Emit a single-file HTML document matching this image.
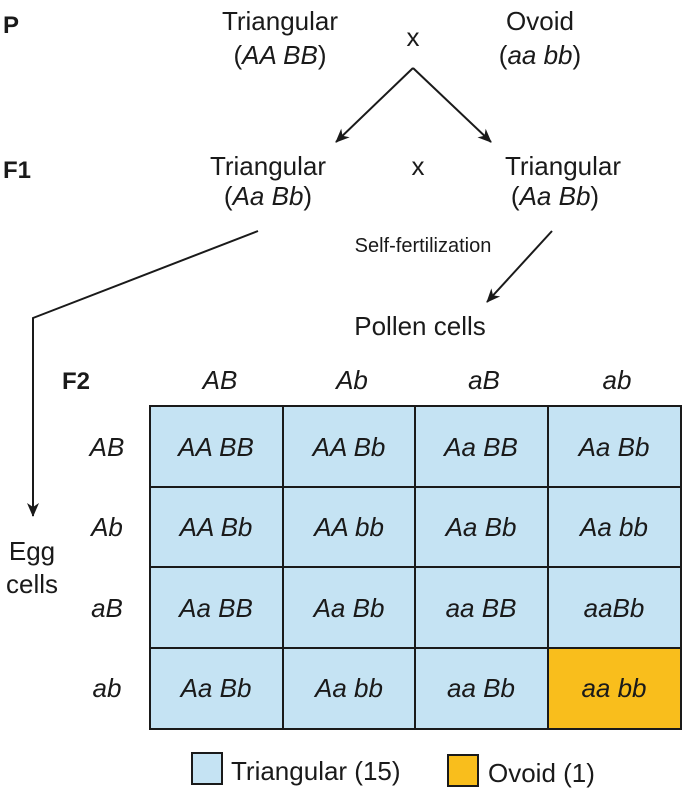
<!DOCTYPE html>
<html><head><style>
body{margin:0;background:#fff}
svg text{font-family:"Liberation Sans",Arial,sans-serif;fill:#1a1a1a}
.i{font-style:italic}
</style></head><body>
<svg width="685" height="793" viewBox="0 0 685 793" xmlns="http://www.w3.org/2000/svg">
<defs><marker id="a" markerWidth="14" markerHeight="12" refX="13" refY="6" orient="auto" markerUnits="userSpaceOnUse"><path d="M0,0 L14,6 L0,12 L4,6 z" fill="#1a1a1a"/></marker></defs>
<g font-size="26">
<text x="3" y="33" font-weight="bold" font-size="24">P</text>
<text x="280" y="30" text-anchor="middle">Triangular</text>
<text x="280" y="64" text-anchor="middle">(<tspan class="i">AA BB</tspan>)</text>
<text x="413" y="46" text-anchor="middle">x</text>
<text x="540" y="30" text-anchor="middle">Ovoid</text>
<text x="540" y="64" text-anchor="middle">(<tspan class="i">aa bb</tspan>)</text>
<text x="3" y="178" font-weight="bold" font-size="24">F1</text>
<text x="268" y="175" text-anchor="middle">Triangular</text>
<text x="268" y="205" text-anchor="middle">(<tspan class="i">Aa Bb</tspan>)</text>
<text x="418" y="175" text-anchor="middle">x</text>
<text x="563" y="175" text-anchor="middle">Triangular</text>
<text x="555" y="205" text-anchor="middle">(<tspan class="i">Aa Bb</tspan>)</text>
<text x="423" y="252" text-anchor="middle" font-size="20">Self-fertilization</text>
<text x="420" y="335" text-anchor="middle">Pollen cells</text>
<text x="62" y="389" font-weight="bold" font-size="24">F2</text>
<g class="i" text-anchor="middle">
<text x="220" y="389" class="i">AB</text><text x="352" y="389" class="i">Ab</text><text x="484" y="389" class="i">aB</text><text x="617" y="389" class="i">ab</text>
<text x="107" y="456" class="i">AB</text><text x="107" y="536" class="i">Ab</text><text x="107" y="617" class="i">aB</text><text x="107" y="697" class="i">ab</text>
</g>
<text x="32" y="560" text-anchor="middle">Egg</text>
<text x="32" y="593" text-anchor="middle">cells</text>
</g>
<g stroke="#1a1a1a" stroke-width="2" fill="none">
<line x1="413" y1="68" x2="336" y2="142" marker-end="url(#a)"/>
<line x1="413" y1="68" x2="491" y2="142" marker-end="url(#a)"/>
<polyline points="258,231 33,318 33,516" marker-end="url(#a)"/>
<line x1="552" y1="231" x2="487" y2="302" marker-end="url(#a)"/>
</g>
<g stroke="#1a1a1a" stroke-width="2">
<rect x="150" y="406" width="531" height="323" fill="#c5e3f3"/>
<rect x="548" y="648" width="133" height="81" fill="#f9be1c"/>
<line x1="283" y1="406" x2="283" y2="729"/><line x1="415" y1="406" x2="415" y2="729"/><line x1="548" y1="406" x2="548" y2="729"/>
<line x1="150" y1="487" x2="681" y2="487"/><line x1="150" y1="567" x2="681" y2="567"/><line x1="150" y1="648" x2="681" y2="648"/>
<rect x="192" y="753" width="30" height="31" fill="#c5e3f3"/>
<rect x="448" y="755" width="30" height="31" fill="#f9be1c"/>
</g>
<g font-size="26" font-style="italic" text-anchor="middle">
<text x="216" y="456">AA BB</text><text x="349" y="456">AA Bb</text><text x="481" y="456">Aa BB</text><text x="614" y="456">Aa Bb</text>
<text x="216" y="536">AA Bb</text><text x="349" y="536">AA bb</text><text x="481" y="536">Aa Bb</text><text x="614" y="536">Aa bb</text>
<text x="216" y="617">Aa BB</text><text x="349" y="617">Aa Bb</text><text x="481" y="617">aa BB</text><text x="614" y="617">aaBb</text>
<text x="216" y="697">Aa Bb</text><text x="349" y="697">Aa bb</text><text x="481" y="697">aa Bb</text><text x="614" y="697">aa bb</text>
</g>
<text x="231" y="780" font-size="26">Triangular (15)</text>
<text x="488" y="782" font-size="26">Ovoid (1)</text>
</svg>
</body></html>
